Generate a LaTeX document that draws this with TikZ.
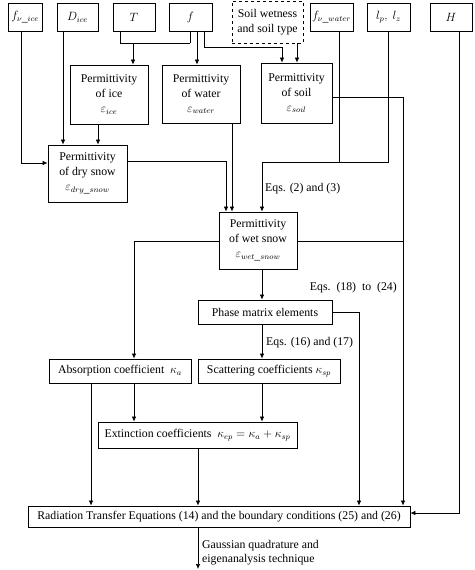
\documentclass[tikz,border=0pt]{standalone}
\usepackage{fontspec}
\setmainfont{Liberation Serif}
\usetikzlibrary{arrows.meta,calc}
\begin{document}
\begin{tikzpicture}[x=1pt,y=-1pt,
  box/.style={draw,line width=0.8pt,inner sep=1pt,align=center,font=\fontsize{11.8}{15}\selectfont},
  arr/.style={line width=0.7pt,-{Latex[length=5pt,width=4.5pt]}},
  ln/.style={line width=0.7pt},
  lab/.style={font=\fontsize{11.8}{14}\selectfont,inner sep=0pt}]
\useasboundingbox (0,0) rectangle (474,570);
% top row
\node[box,minimum width=34pt,minimum height=28pt] (fnuice) at (25,17) {$f_{\nu\_ice}$};
\node[box,minimum width=41pt,minimum height=28pt] (Dice) at (77.5,17) {$D_{ice}$};
\node[box,minimum width=42pt,minimum height=28pt] (T) at (134,17) {$T$};
\node[box,minimum width=43pt,minimum height=28pt] (f) at (190.5,17) {$f$};
\node[box,dashed,minimum width=71pt,minimum height=42pt] (soilw) at (267.5,22) {Soil wetness\\and soil type};
\node[box,minimum width=43pt,minimum height=28pt] (fnuwater) at (331.5,17) {$f_{\nu\_water}$};
\node[box,minimum width=43pt,minimum height=28pt] (lp) at (388.5,17) {$l_p,\ l_z$};
\node[box,minimum width=42pt,minimum height=28pt] (H) at (451,17) {$H$};
% permittivity boxes
\node[box,minimum width=78pt,minimum height=59pt] (ice) at (109,94.5) {Permittivity\\of ice\\$\varepsilon_{ice}$};
\node[box,minimum width=78pt,minimum height=58pt] (water) at (201,94) {Permittivity\\of water\\$\varepsilon_{water}$};
\node[box,minimum width=71pt,minimum height=60pt] (soil) at (296.5,93) {Permittivity\\of soil\\$\varepsilon_{soil}$};
\node[box,minimum width=79pt,minimum height=57pt] (dry) at (87.5,173.5) {Permittivity\\of dry snow\\$\varepsilon_{dry\_snow}$};
\node[box,minimum width=78pt,minimum height=57pt] (wet) at (258,240.5) {Permittivity\\of wet snow\\$\varepsilon_{wet\_snow}$};
% lower boxes
\node[box,minimum width=134pt,minimum height=24pt] (phase) at (265,312) {Phase matrix elements};
\node[box,minimum width=142pt,minimum height=24pt] (absorb) at (120,371) {Absorption coefficient \ $\kappa_a$};
\node[box,minimum width=142pt,minimum height=24pt] (scatter) at (269,371) {Scattering coefficients $\kappa_{sp}$};
\node[box,minimum width=199pt,minimum height=26pt] (ext) at (197.5,435) {Extinction coefficients \ $\kappa_{ep}=\kappa_a+\kappa_{sp}$};
\node[box,minimum width=382pt,minimum height=21pt] (rte) at (219,516.5) {Radiation Transfer Equations (14) and the boundary conditions (25) and (26)};
% junction coordinates
\coordinate (jTf) at (190,43);
\coordinate (jT) at (133,43);
\coordinate (jfs) at (282,47);
\coordinate (jw) at (339,162);
\coordinate (jsoil) at (403,241);
\coordinate (out) at (198,569);
% connectors
\draw[arr] (fnuice.south -| 21,0) |- (dry.west |- 0,163);
\draw[arr] (Dice.south -| 63,0) -- (dry.north -| 63,0);
\draw[ln] (T.south -| 120,0) |- (jTf);
\draw[ln] (f.south -| 190,0) -- (jTf);
\draw[arr] (jT) -- (ice.north -| jT);
\draw[arr] (f.south -| 197,0) -- (water.north -| 197,0);
\draw[arr] (f.south -| 204,0) |- (jfs) -- (soil.north -| jfs);
\draw[arr] (soilw.south -| 297,0) -- (soil.north -| 297,0);
\draw[arr] (ice.south -| 98,0) -- (dry.north -| 98,0);
\draw[arr] (dry.east |- 0,161) -| (wet.north -| 226,0);
\draw[arr] (water.south -| 232,0) -- (wet.north -| 232,0);
\draw[ln] (fnuwater.south -| jw) -- (jw);
\draw[arr] (lp.south -| 388,0) |- (262,162) -- (wet.north -| 262,0);
\node[lab,anchor=west] (eq23) at (265,189) {Eqs. (2) and (3)};
\draw[arr] (soil.east |- 0,97) -| (rte.north -| jsoil);
\draw[ln] (wet.east |- jsoil) -- (jsoil);
\draw[arr] (H.south -| 459,0) |- (rte.east |- 0,513);
\draw[arr] (wet.south -| 262,0) -- (phase.north -| 262,0);
\node[lab,anchor=east] (eq18) at (397,288) {Eqs.\ \ (18)\ \ to\ \ (24)};
\draw[arr] (wet.west |- jsoil) -| (absorb.north -| 134,0);
\draw[arr] (phase.east) -| (rte.north -| 359,0);
\draw[arr] (phase.south -| 262,0) -- (scatter.north -| 262,0);
\node[lab,anchor=west] (eq16) at (266,343) {Eqs. (16) and (17)};
\draw[arr] (absorb.south -| 91,0) -- (rte.north -| 91,0);
\draw[arr] (absorb.south -| 134,0) -- (ext.north -| 134,0);
\draw[arr] (scatter.south -| 262,0) -- (ext.north -| 262,0);
\draw[arr] (ext.south -| 198,0) -- (rte.north -| 198,0);
\draw[arr] (rte.south -| out) -- (out);
\node[lab,anchor=west,align=left] (gq) at (202,553) {Gaussian quadrature and\\eigenanalysis technique};
\end{tikzpicture}
\end{document}
